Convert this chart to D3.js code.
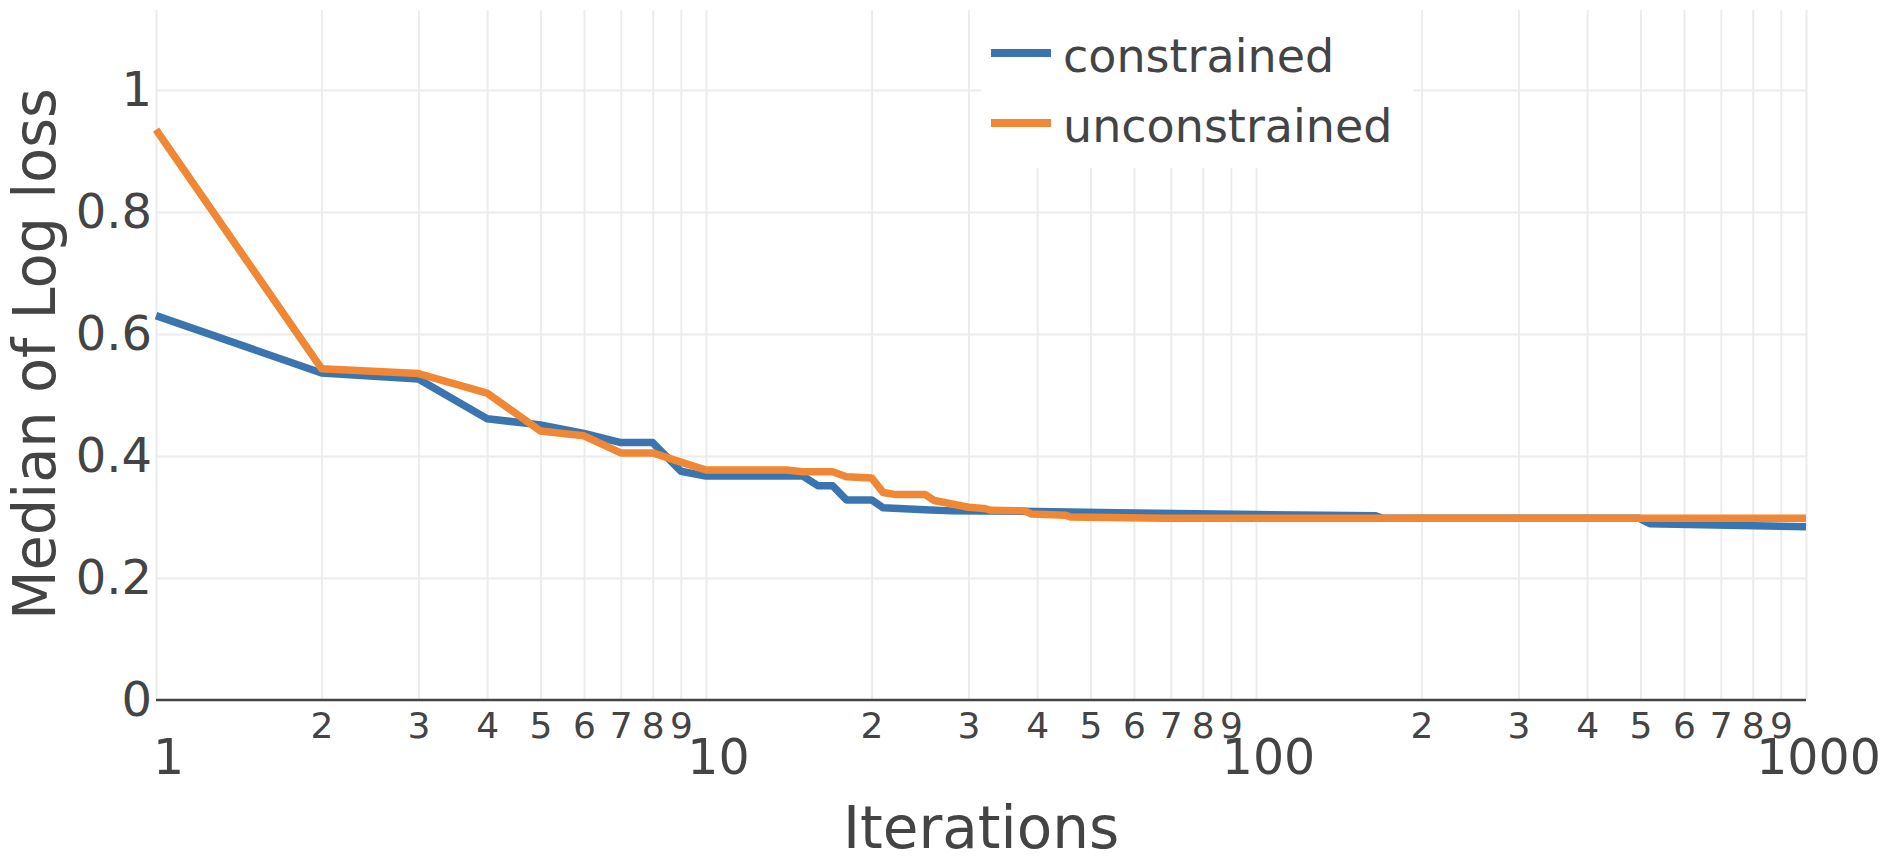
<!DOCTYPE html>
<html>
<head>
<meta charset="utf-8">
<script src="https://cdn.jsdelivr.net/npm/d3@7"></script>
<style>
  body { margin: 0; background: #fff; }
  text { font-family: "DejaVu Sans", sans-serif; fill: #444; }
</style>
</head>
<body>
<div id="chart"></div>
<script>
// ---- data ----
var seriesNames = ["constrained", "unconstrained"];
var seriesColors = ["#3a75b0", "#f08735"];

var constrainedIter = [1, 2, 3, 4, 5, 6, 7, 8, 9, 10, 15, 16, 17, 18, 20, 21, 25, 28, 40, 56, 100, 165, 170, 497, 520, 1000];
var constrainedLoss = [0.630, 0.536, 0.526, 0.461, 0.451, 0.437, 0.422, 0.422, 0.375, 0.367, 0.367, 0.351, 0.351, 0.328, 0.328, 0.315, 0.312, 0.310, 0.309, 0.307, 0.304, 0.302, 0.298, 0.298, 0.289, 0.284];

var unconstrainedIter = [1, 2, 3, 4, 5, 6, 7, 8, 9, 10, 14, 15, 17, 18, 20, 21, 22, 25, 26, 30, 32, 33, 38, 39, 45, 46, 68, 1000];
var unconstrainedLoss = [0.935, 0.543, 0.535, 0.503, 0.441, 0.433, 0.405, 0.405, 0.390, 0.377, 0.377, 0.374, 0.374, 0.366, 0.364, 0.340, 0.337, 0.337, 0.327, 0.316, 0.314, 0.311, 0.310, 0.305, 0.303, 0.300, 0.298, 0.298];

var yTicks = [0, 0.2, 0.4, 0.6, 0.8, 1];
var xMajorTicks = [1, 10, 100, 1000];
var xMinorDigits = [2, 3, 4, 5, 6, 7, 8, 9];

var width = 1894, height = 866;
var plot = { left: 156, right: 1806, top: 10, bottom: 700 };

var svg = d3.select("#chart")
    .append("svg")
    .attr("width", width)
    .attr("height", height);

// -------- scales ------------
var xScale = d3.scaleLog()
    .domain([1, 1000])
    .range([plot.left, plot.right]);

var yScale = d3.scaleLinear()
    .domain([0, 1.131])
    .range([plot.bottom, plot.top]);

// all minor values 2..9 in every decade
var xMinorTicks = [];
xMajorTicks.slice(0, 3).forEach(function(m) {
    xMinorDigits.forEach(function(d) { xMinorTicks.push(m * d); });
});
var xGridTicks = xMajorTicks.concat(xMinorTicks);

// -------- grid ------------
svg.append("g")
    .attr("transform", `translate(0, ${plot.bottom})`)
    .call(d3.axisBottom(xScale).tickValues(xGridTicks).tickSize(-(plot.bottom - plot.top)).tickFormat(""))
    .call(g => g.select(".domain").remove())
    .selectAll("line")
    .attr("stroke", "#ececec")
    .attr("stroke-width", 2);

svg.append("g")
    .attr("transform", `translate(${plot.left}, 0)`)
    .call(d3.axisLeft(yScale).tickValues(yTicks.slice(1)).tickSize(-(plot.right - plot.left)).tickFormat(""))
    .call(g => g.select(".domain").remove())
    .selectAll("line")
    .attr("stroke", "#ececec")
    .attr("stroke-width", 2);

// zero line
svg.append("line")
    .attr("x1", xScale(1))
    .attr("x2", xScale(1000))
    .attr("y1", yScale(0))
    .attr("y2", yScale(0))
    .attr("stroke", "#444")
    .attr("stroke-width", 2.5);

// -------- lines ------------
var line = d3.line()
    .x(d => xScale(d[0]))
    .y(d => yScale(d[1]));

var seriesData = [
    d3.zip(constrainedIter, constrainedLoss),
    d3.zip(unconstrainedIter, unconstrainedLoss)
];

svg.append("g")
    .selectAll("path")
    .data(seriesData)
    .enter()
    .append("path")
    .attr("d", line)
    .attr("fill", "none")
    .attr("stroke", (d, i) => seriesColors[i])
    .attr("stroke-width", 7.5)
    .attr("stroke-linejoin", "round");

// -------- axes labels ------------
var yAxis = svg.append("g")
    .attr("transform", `translate(${plot.left}, 0)`)
    .call(d3.axisLeft(yScale).tickValues(yTicks).tickSize(0).tickPadding(4).tickFormat(d3.format("~g")));
yAxis.select(".domain").remove();
yAxis.selectAll("text")
    .attr("font-size", 48)
    .attr("font-family", "DejaVu Sans")
    .attr("fill", "#444");

var xMinorAxis = svg.append("g")
    .attr("transform", `translate(0, ${plot.bottom})`)
    .call(d3.axisBottom(xScale).tickValues(xMinorTicks).tickSize(0)
        .tickFormat(d => String(d / Math.pow(10, Math.floor(Math.log10(d) + 1e-9)))));
xMinorAxis.select(".domain").remove();
xMinorAxis.selectAll("text")
    .attr("y", 38)
    .attr("dy", 0)
    .attr("font-size", 36)
    .attr("font-family", "DejaVu Sans")
    .attr("fill", "#444");

var xMajorAxis = svg.append("g")
    .attr("transform", `translate(0, ${plot.bottom})`)
    .call(d3.axisBottom(xScale).tickValues(xMajorTicks).tickSize(0).tickFormat(d3.format("d")));
xMajorAxis.select(".domain").remove();
xMajorAxis.selectAll("text")
    .attr("y", 74)
    .attr("dy", 0)
    .attr("dx", 12)
    .attr("font-size", 49)
    .attr("font-family", "DejaVu Sans")
    .attr("fill", "#444");

// -------- titles ------------
svg.append("text")
    .attr("x", (plot.left + plot.right) / 2)
    .attr("y", 848)
    .attr("text-anchor", "middle")
    .attr("font-size", 58)
    .text("Iterations");

svg.append("text")
    .attr("transform", "translate(55, 354) rotate(-90)")
    .attr("text-anchor", "middle")
    .attr("font-size", 58)
    .attr("textLength", 532)
    .attr("lengthAdjust", "spacingAndGlyphs")
    .text("Median of Log loss");

// -------- legend ------------
var legend = svg.append("g");

legend.append("rect")
    .attr("x", 981)
    .attr("y", plot.top)
    .attr("width", 432)
    .attr("height", 158)
    .attr("fill", "#fff");

var legendItems = legend.selectAll("g.item")
    .data(seriesNames)
    .enter()
    .append("g")
    .attr("class", "item")
    .attr("transform", (d, i) => `translate(0, ${53 + i * 70})`);

legendItems.append("line")
    .attr("x1", 991)
    .attr("x2", 1051)
    .attr("stroke", (d, i) => seriesColors[i])
    .attr("stroke-width", 8);

legendItems.append("text")
    .attr("x", 1063)
    .attr("y", 19)
    .attr("font-size", 46)
    .text(d => d);
</script>
</body>
</html>
